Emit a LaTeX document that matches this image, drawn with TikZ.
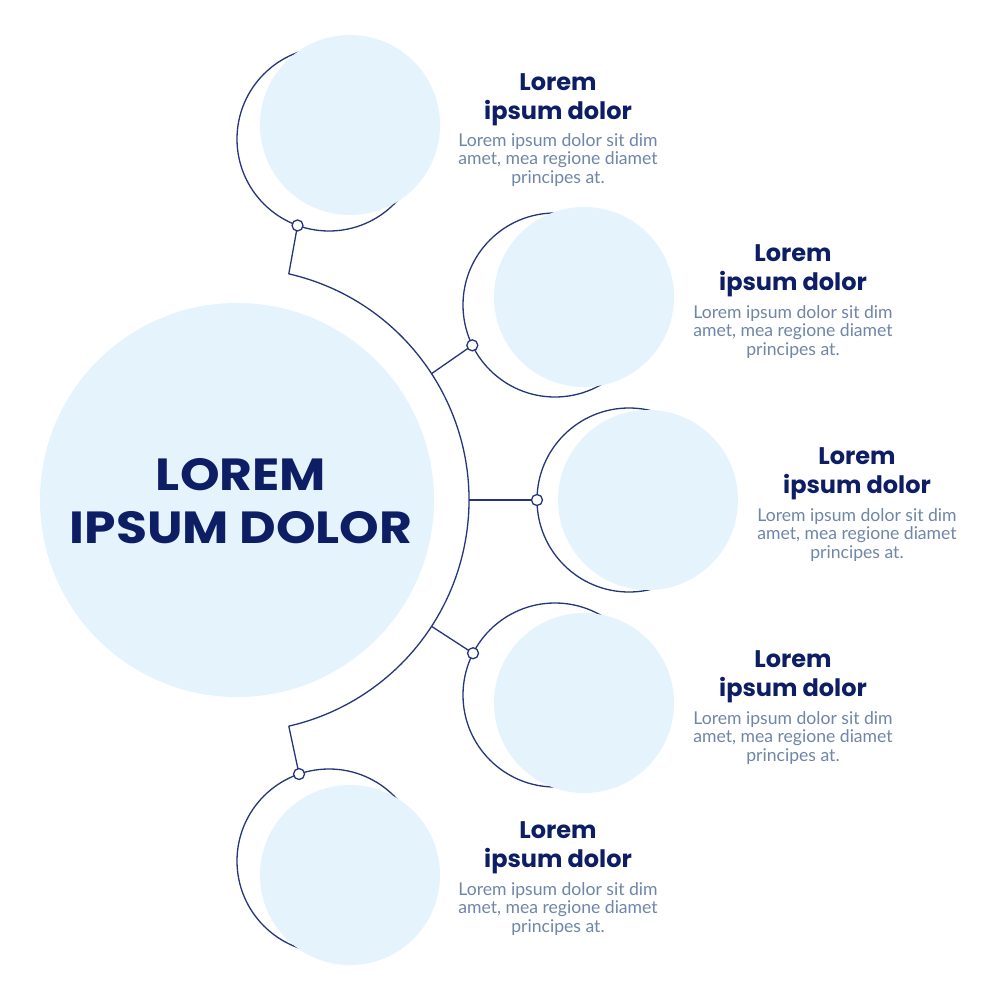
\documentclass[tikz,border=0pt]{standalone}
\usepackage{fontspec}
\newfontfamily\titlefont{Poppins}
\newfontfamily\bigfont{Poppins}[FakeStretch=1.12]
\newfontfamily\bodyfont{Lato}
\definecolor{navy}{HTML}{0E1E64}
\definecolor{linec}{HTML}{24357A}
\definecolor{softfill}{HTML}{E5F3FC}
\definecolor{bodyc}{HTML}{6F86A8}
\tikzset{
  bigdisc/.style={circle,fill=softfill,inner sep=0pt,outer sep=0pt,minimum size=394pt},
  disc/.style={circle,fill=softfill,inner sep=0pt,outer sep=0pt,minimum size=180pt},
  ring/.style={circle,draw=linec,line width=1.3pt,inner sep=0pt,outer sep=0pt,minimum size=184pt},
  dotn/.style={circle,draw=linec,fill=white,line width=1.3pt,inner sep=0pt,outer sep=0pt,minimum size=11pt},
  link/.style={draw=linec,line width=1.3pt},
  ttl/.style={align=center,text=navy,font=\titlefont\bfseries\fontsize{24}{28.5}\selectfont},
  bdy/.style={align=center,text=bodyc,font=\bodyfont\fontsize{17.6}{18.6}\selectfont},
  bigttl/.style={align=center,text=navy,font=\bigfont\bfseries\fontsize{45}{53}\selectfont}
}
\begin{document}
\begin{tikzpicture}[x=1pt,y=-1pt]
\useasboundingbox[fill=white] (0,0) rectangle (1000,1000);
% big disc
\node[bigdisc] (big) at (237,500) {};
\node[bigttl] (bigt) at (241,501) {LOREM\\IPSUM DOLOR};
% rings
\node[ring] (o1) at (329,139) {};
\node[ring] (o2) at (555,305) {};
\node[ring] (o3) at (629,500) {};
\node[ring] (o4) at (555,695) {};
\node[ring] (o5) at (329,861) {};
% discs on top
\node[disc] (f1) at (350,125) {};
\node[disc] (f2) at (584,297) {};
\node[disc] (f3) at (648,500) {};
\node[disc] (f4) at (584,703) {};
\node[disc] (f5) at (350,875) {};
% arc points
\path (big.center) ++(77.1:232pt) coordinate (a1);
\path (big.center) ++(33:232pt) coordinate (a2);
\path (big.center) ++(0:232pt) coordinate (a3);
\path (big.center) ++(-33:232pt) coordinate (a4);
\path (big.center) ++(-77.1:232pt) coordinate (a5);
\draw[link] (a1) arc[start angle=77.1,end angle=-77.1,radius=232pt];
% dots
\coordinate (p1) at (o1.250.3);
\coordinate (p2) at (o2.206.6);
\coordinate (p3) at (o3.180);
\coordinate (p4) at (o4.153.4);
\coordinate (p5) at (o5.109.7);
\draw[link] (a1) -- (p1);
\draw[link] (a2) -- (p2);
\draw[link] (a3) -- (p3);
\draw[link] (a4) -- (p4);
\draw[link] (a5) -- (p5);
\node[dotn] (d1) at (p1) {};
\node[dotn] (d2) at (p2) {};
\node[dotn] (d3) at (p3) {};
\node[dotn] (d4) at (p4) {};
\node[dotn] (d5) at (p5) {};
% texts
\node[ttl] (t1) at (558,100) {Lorem\\ipsum dolor};
\node[bdy] (b1) at (558,160) {Lorem ipsum dolor sit dim\\amet, mea regione diamet\\principes at.};
\node[ttl] (t2) at (793,271) {Lorem\\ipsum dolor};
\node[bdy] (b2) at (793,332) {Lorem ipsum dolor sit dim\\amet, mea regione diamet\\principes at.};
\node[ttl] (t3) at (857,474) {Lorem\\ipsum dolor};
\node[bdy] (b3) at (857,535) {Lorem ipsum dolor sit dim\\amet, mea regione diamet\\principes at.};
\node[ttl] (t4) at (793,677) {Lorem\\ipsum dolor};
\node[bdy] (b4) at (793,738) {Lorem ipsum dolor sit dim\\amet, mea regione diamet\\principes at.};
\node[ttl] (t5) at (558,848) {Lorem\\ipsum dolor};
\node[bdy] (b5) at (558,909) {Lorem ipsum dolor sit dim\\amet, mea regione diamet\\principes at.};
\end{tikzpicture}
\end{document}
